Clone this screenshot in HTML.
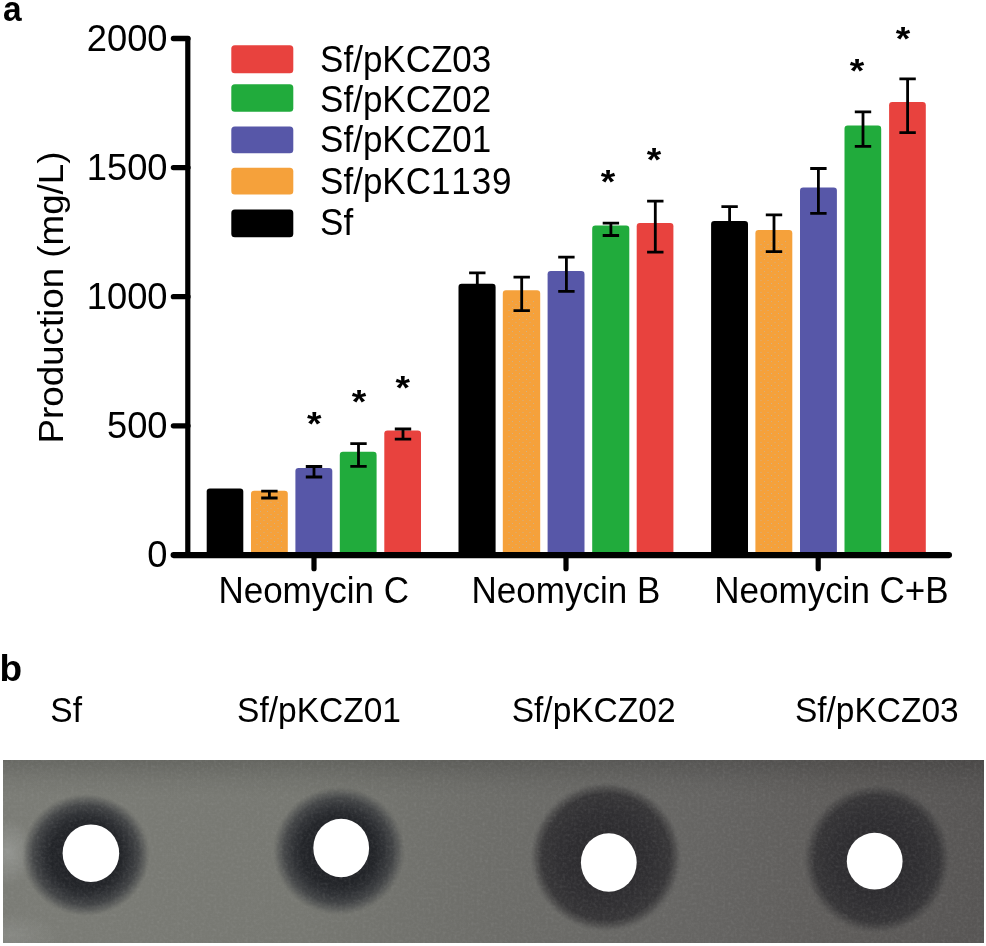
<!DOCTYPE html>
<html lang="en"><head><meta charset="utf-8"><title>Figure</title>
<style>
html,body{margin:0;padding:0;background:#fff;}
body{width:986px;height:946px;overflow:hidden;position:relative;}
svg{position:absolute;left:0;top:0;display:block;}
text{font-family:"Liberation Sans",Arial,Helvetica,sans-serif;fill:#000;font-kerning:none;}
.pl{font-weight:bold;}
.st{font-weight:bold;}
</style></head><body>
<svg width="986" height="946" viewBox="0 0 986 946">
<defs>
<linearGradient id="bg" x1="0" y1="0" x2="1" y2="0">
<stop offset="0" stop-color="#7b7c76"/><stop offset="0.3" stop-color="#777872"/><stop offset="0.5" stop-color="#6d6d69"/><stop offset="0.72" stop-color="#656462"/><stop offset="0.85" stop-color="#5e5c5a"/><stop offset="1" stop-color="#575554"/>
</linearGradient>
<radialGradient id="h1"><stop offset="0" stop-color="#1f2025"/><stop offset="0.55" stop-color="#232529"/><stop offset="0.68" stop-color="#2d2f33" stop-opacity="0.97"/><stop offset="0.82" stop-color="#3a3c3f" stop-opacity="0.85"/><stop offset="0.92" stop-color="#444648" stop-opacity="0.45"/><stop offset="1" stop-color="#50524f" stop-opacity="0"/></radialGradient>
<radialGradient id="h3"><stop offset="0" stop-color="#28272a"/><stop offset="0.6" stop-color="#302f32"/><stop offset="0.84" stop-color="#353436" stop-opacity="0.96"/><stop offset="0.93" stop-color="#3e3d3e" stop-opacity="0.5"/><stop offset="1" stop-color="#555" stop-opacity="0"/></radialGradient>
<linearGradient id="vt" x1="0" y1="0" x2="0" y2="1"><stop offset="0" stop-color="#000" stop-opacity="0.16"/><stop offset="0.12" stop-color="#000" stop-opacity="0.04"/><stop offset="0.2" stop-color="#000" stop-opacity="0"/><stop offset="1" stop-color="#000" stop-opacity="0"/></linearGradient>
<pattern id="od" width="7" height="6" patternUnits="userSpaceOnUse"><rect x="1" y="1" width="1" height="1" fill="#c9b394"/><rect x="4.5" y="4" width="1" height="1" fill="#c9b394"/></pattern>
<radialGradient id="lp"><stop offset="0" stop-color="#9a9c98" stop-opacity="0.8"/><stop offset="1" stop-color="#9a9c98" stop-opacity="0"/></radialGradient>
<filter id="noise" x="0" y="0" width="100%" height="100%"><feTurbulence type="fractalNoise" baseFrequency="0.35" numOctaves="2" seed="3" result="n"/><feColorMatrix in="n" type="matrix" values="0 0 0 0 0.5  0 0 0 0 0.5  0 0 0 0 0.5  0.25 0.25 0.25 0 -0.32"/></filter>
<clipPath id="pc"><rect x="3" y="760" width="981" height="183"/></clipPath>
</defs>
<rect x="0" y="0" width="986" height="946" fill="#fff"/>

<rect x="206.7" y="488.4" width="36.6" height="67.6" rx="3.2" fill="#000000"/>
<rect x="251.0" y="490.8" width="36.8" height="65.2" rx="3.2" fill="#F5A13B"/>
<rect x="295.4" y="467.9" width="36.9" height="88.1" rx="3.2" fill="#5757A8"/>
<rect x="339.8" y="451.7" width="36.8" height="104.3" rx="3.2" fill="#21AB3C"/>
<rect x="384.3" y="430.4" width="36.7" height="125.6" rx="3.2" fill="#E8423E"/>
<rect x="458.5" y="283.7" width="37.1" height="272.3" rx="3.2" fill="#000000"/>
<rect x="502.8" y="290.3" width="37.4" height="265.7" rx="3.2" fill="#F5A13B"/>
<rect x="547.6" y="271.1" width="36.9" height="284.9" rx="3.2" fill="#5757A8"/>
<rect x="592.2" y="225.5" width="37.1" height="330.5" rx="3.2" fill="#21AB3C"/>
<rect x="636.7" y="223.1" width="36.7" height="332.9" rx="3.2" fill="#E8423E"/>
<rect x="711.1" y="220.9" width="36.9" height="335.1" rx="3.2" fill="#000000"/>
<rect x="755.4" y="230.1" width="36.9" height="325.9" rx="3.2" fill="#F5A13B"/>
<rect x="800.0" y="187.5" width="36.9" height="368.5" rx="3.2" fill="#5757A8"/>
<rect x="844.5" y="125.5" width="36.7" height="430.5" rx="3.2" fill="#21AB3C"/>
<rect x="889.1" y="102.0" width="36.7" height="454.0" rx="3.2" fill="#E8423E"/>
<rect x="255.0" y="499.8" width="28.8" height="49.2" fill="url(#od)" opacity="0.8"/>
<rect x="506.8" y="299.3" width="29.4" height="249.7" fill="url(#od)" opacity="0.8"/>
<rect x="759.4" y="239.1" width="28.9" height="309.9" fill="url(#od)" opacity="0.8"/>
<path d="M261.2 491.2H277.6M261.2 498.0H277.6M269.4 491.2V498.0" stroke="#000" stroke-width="2.8" fill="none"/>
<path d="M305.8 466.5H322.2M305.8 477.0H322.2M314.0 466.5V477.0" stroke="#000" stroke-width="2.8" fill="none"/>
<path d="M350.3 443.6H366.7M350.3 466.3H366.7M358.5 443.6V466.3" stroke="#000" stroke-width="2.8" fill="none"/>
<path d="M394.8 429.0H411.2M394.8 439.1H411.2M403.0 429.0V439.1" stroke="#000" stroke-width="2.8" fill="none"/>
<path d="M469.1 272.9H485.5M477.3 272.9V284.7" stroke="#000" stroke-width="2.8" fill="none"/>
<path d="M513.5 277.1H529.9M513.5 310.6H529.9M521.7 277.1V310.6" stroke="#000" stroke-width="2.8" fill="none"/>
<path d="M558.2 257.1H574.6M558.2 291.4H574.6M566.4 257.1V291.4" stroke="#000" stroke-width="2.8" fill="none"/>
<path d="M602.7 223.1H619.1M602.7 235.5H619.1M610.9 223.1V235.5" stroke="#000" stroke-width="2.8" fill="none"/>
<path d="M647.1 201.2H663.5M647.1 252.1H663.5M655.3 201.2V252.1" stroke="#000" stroke-width="2.8" fill="none"/>
<path d="M721.4 206.6H737.8M729.6 206.6V221.9" stroke="#000" stroke-width="2.8" fill="none"/>
<path d="M765.8 214.8H782.2M765.8 251.7H782.2M774.0 214.8V251.7" stroke="#000" stroke-width="2.8" fill="none"/>
<path d="M810.2 168.5H826.6M810.2 213.4H826.6M818.4 168.5V213.4" stroke="#000" stroke-width="2.8" fill="none"/>
<path d="M854.8 111.8H871.2M854.8 146.3H871.2M863.0 111.8V146.3" stroke="#000" stroke-width="2.8" fill="none"/>
<path d="M899.4 78.8H915.8M899.4 132.6H915.8M907.6 78.8V132.6" stroke="#000" stroke-width="2.8" fill="none"/>
<path d="M187.8 38.5V555M314 555V568.7M566 555V568.7M818.2 555V568.7" stroke="#000" stroke-width="5.2" fill="none" stroke-linecap="round"/>
<path d="M173.4 38.5H188M173.4 167.6H188M173.4 296.7H188M173.4 425.8H188" stroke="#000" stroke-width="5.3" fill="none" stroke-linecap="round"/>
<path d="M173.6 555.1H949" stroke="#000" stroke-width="6.1" fill="none" stroke-linecap="round"/>
<text transform="translate(167.5,50.8) scale(1,1.03)" font-size="36.3" text-anchor="end">2000</text>
<text transform="translate(167.5,179.9) scale(1,1.03)" font-size="36.3" text-anchor="end">1500</text>
<text transform="translate(167.5,309.0) scale(1,1.03)" font-size="36.3" text-anchor="end">1000</text>
<text transform="translate(167.5,438.1) scale(1,1.03)" font-size="36.3" text-anchor="end">500</text>
<text transform="translate(167.5,567.3) scale(1,1.03)" font-size="36.3" text-anchor="end">0</text>
<text transform="translate(62.8,443.5) rotate(-90) scale(1.05,1)" font-size="35">Production (mg/L)</text>
<text transform="translate(218.4,603.1) scale(1,1.05)" font-size="35" text-anchor="start">Neomycin C</text>
<text transform="translate(471.6,603.1) scale(1,1.05)" font-size="35" text-anchor="start">Neomycin B</text>
<text transform="translate(714.3,603.1) scale(1,1.05)" font-size="35" text-anchor="start">Neomycin C+B</text>
<rect x="231.3" y="45.2" width="62" height="28.0" rx="3.5" fill="#E8423E"/>
<text transform="translate(320.1,72.0) scale(1,1.075)" font-size="35" text-anchor="start">Sf/pKCZ03</text>
<rect x="231.3" y="84.2" width="62" height="27.6" rx="3.5" fill="#21AB3C"/>
<text transform="translate(320.1,111.6) scale(1,1.075)" font-size="35" text-anchor="start">Sf/pKCZ02</text>
<rect x="231.3" y="126.4" width="62" height="26.8" rx="3.5" fill="#5757A8"/>
<text transform="translate(320.1,151.8) scale(1,1.075)" font-size="35" text-anchor="start">Sf/pKCZ01</text>
<rect x="231.3" y="167.8" width="62" height="26.8" rx="3.5" fill="#F5A13B"/>
<text transform="translate(320.1,193.8) scale(1,1.075)" font-size="35" text-anchor="start">Sf/pKC<tspan letter-spacing="0.9">1139</tspan></text>
<rect x="231.3" y="209.5" width="62" height="27.7" rx="3.5" fill="#000000"/>
<text transform="translate(320.1,234.9) scale(1,1.075)" font-size="35" text-anchor="start">Sf</text>
<text class="st" font-size="34.5" text-anchor="middle" transform="translate(314.2,435.2) scale(1.08,0.98)">*</text>
<text class="st" font-size="34.5" text-anchor="middle" transform="translate(358.9,413.2) scale(1.08,0.98)">*</text>
<text class="st" font-size="34.5" text-anchor="middle" transform="translate(402.7,398.9) scale(1.08,0.98)">*</text>
<text class="st" font-size="34.5" text-anchor="middle" transform="translate(607.9,193.2) scale(1.08,0.98)">*</text>
<text class="st" font-size="34.5" text-anchor="middle" transform="translate(654.1,170.5) scale(1.08,0.98)">*</text>
<text class="st" font-size="34.5" text-anchor="middle" transform="translate(856.9,82.3) scale(1.08,0.98)">*</text>
<text class="st" font-size="34.5" text-anchor="middle" transform="translate(903.1,49.8) scale(1.08,0.98)">*</text>
<text class="pl" font-size="36" transform="translate(2.9,20.9) scale(0.93,1)">a</text>
<text class="pl" font-size="37" x="-0.5" y="680.6">b</text>
<text transform="translate(50.3,722.4) scale(1,1.03)" font-size="33.5" text-anchor="start">Sf</text>
<text transform="translate(237.1,722.4) scale(1,1.03)" font-size="33.5" text-anchor="start">Sf/pKCZ01</text>
<text transform="translate(511.7,722.4) scale(1,1.03)" font-size="33.5" text-anchor="start">Sf/pKCZ02</text>
<text transform="translate(794.9,722.4) scale(1,1.03)" font-size="33.5" text-anchor="start">Sf/pKCZ03</text>
<g clip-path="url(#pc)">
<rect x="3" y="760" width="981" height="183" fill="url(#bg)"/>
<rect x="3" y="760" width="981" height="183" fill="url(#vt)"/>
<ellipse cx="8" cy="852" rx="26" ry="34" fill="url(#lp)"/>
<ellipse cx="10" cy="935" rx="50" ry="22" fill="url(#lp)" opacity="0.5"/>
<ellipse cx="86" cy="855" rx="64" ry="61" fill="url(#h1)"/>
<ellipse cx="339" cy="851" rx="66" ry="64" fill="url(#h1)"/>
<ellipse cx="606" cy="857" rx="76" ry="75" fill="url(#h3)"/>
<ellipse cx="877" cy="859" rx="74" ry="75" fill="url(#h3)"/>
<rect x="3" y="760" width="981" height="183" filter="url(#noise)" opacity="0.5"/>
<ellipse cx="90.9" cy="853.2" rx="28.3" ry="28.8" fill="#fff"/>
<ellipse cx="341.2" cy="848" rx="27.9" ry="29.2" fill="#fff"/>
<ellipse cx="608.8" cy="862.5" rx="27.9" ry="29.2" fill="#fff"/>
<ellipse cx="874.7" cy="861.2" rx="27.9" ry="28.4" fill="#fff"/>
</g>
</svg></body></html>
